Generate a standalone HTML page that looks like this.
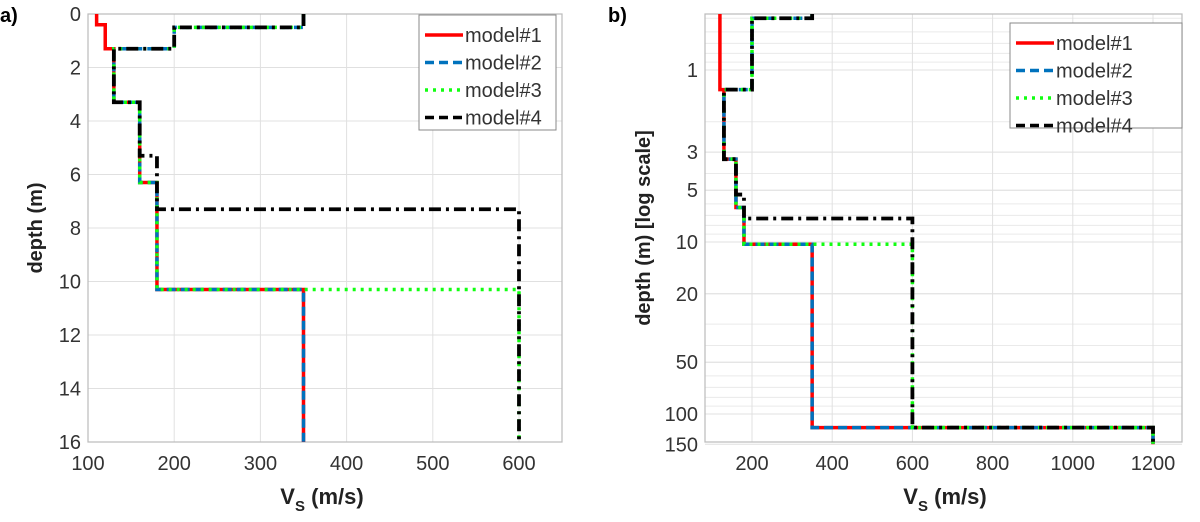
<!DOCTYPE html>
<html><head><meta charset="utf-8">
<style>
body{margin:0;background:#fff;}
svg{display:block;font-family:"Liberation Sans",sans-serif;}
.tick{font-size:20px;fill:#333;}
</style></head>
<body>
<svg id="fig" width="1200" height="522" viewBox="0 0 1200 522" xmlns="http://www.w3.org/2000/svg">
<text x="0" y="22" font-size="20" font-weight="bold">a)</text>
<text x="608" y="22" font-size="20" font-weight="bold">b)</text>
<text transform="translate(42,228) rotate(-90)" text-anchor="middle" font-size="20" font-weight="bold" fill="#222">depth (m)</text>
<text transform="translate(650,228) rotate(-90)" text-anchor="middle" font-size="20" font-weight="bold" fill="#222">depth (m) [log scale]</text>
<text x="322" y="504" text-anchor="middle" font-size="22" font-weight="bold" fill="#222">V<tspan font-size="15" dy="7">S</tspan><tspan dy="-7"> (m/s)</tspan></text>
<text x="945" y="504" text-anchor="middle" font-size="22" font-weight="bold" fill="#222">V<tspan font-size="15" dy="7">S</tspan><tspan dy="-7"> (m/s)</tspan></text>
<g id="gA"></g><g id="gB"></g>
</svg>
<script>
// layer velocities (m/s) and layer bottom depths (m)
const m1Vs = [110, 120, 130, 160, 180, 350, 1200];
const m1Bot = [0.4, 1.3, 3.3, 6.3, 10.3, 120, 150];
const m2Vs = [350, 200, 130, 160, 180, 350, 1200];
const m2Bot = [0.5, 1.3, 3.3, 6.3, 10.3, 120, 150];
const m3Vs = [350, 200, 130, 160, 180, 600, 1200];
const m3Bot = [0.5, 1.3, 3.3, 6.3, 10.3, 120, 150];
const m4Vs = [350, 200, 130, 160, 180, 600, 1200];
const m4Bot = [0.5, 1.3, 3.3, 5.3, 7.3, 120, 150];
const legendLabels = ["model#1", "model#2", "model#3", "model#4"];
const xTicksA = [100, 200, 300, 400, 500, 600];
const yTicksA = [0, 2, 4, 6, 8, 10, 12, 14, 16];
const xTicksB = [200, 400, 600, 800, 1000, 1200];
const yTicksB = [1, 3, 5, 10, 20, 50, 100, 150];

const NS = "http://www.w3.org/2000/svg";
const styles = [
  {c:"#ff0000", d:"", w:3.5},
  {c:"#0072bd", d:"9,5", w:3.5},
  {c:"#11ff11", d:"3,5", w:3.5},
  {c:"#000000", d:"12,5,3,5", w:3.8}
];
const models = [[m1Vs,m1Bot],[m2Vs,m2Bot],[m3Vs,m3Bot],[m4Vs,m4Bot]];
function mk(tag, attrs, parent){const e=document.createElementNS(NS,tag);for(const k in attrs)e.setAttribute(k,attrs[k]);parent.appendChild(e);return e;}

function panel(g, L, T, R, B, xs, ys, xTicks, yTicks, minorY, zmax, legBox, tag){
  for(const v of minorY){ const l=mk('line',{x1:L,x2:R,y1:ys(v),y2:ys(v),stroke:'#eaeaea','stroke-width':1},g);
      }
  for(const v of xTicks){ const l=mk('line',{x1:xs(v),x2:xs(v),y1:T,y2:B,stroke:'#e0e0e0','stroke-width':1},g);
     
    const t=mk('text',{x:xs(v),y:B+28,'text-anchor':'middle',class:'tick'},g); t.textContent=v;
      }
  for(const v of yTicks){ const l=mk('line',{x1:L,x2:R,y1:ys(v),y2:ys(v),stroke:'#e0e0e0','stroke-width':1},g);
     
    const t=mk('text',{x:L-7,y:ys(v)+7,'text-anchor':'end',class:'tick'},g); t.textContent=v;
      }
  const box=mk('rect',{x:L,y:T,width:R-L,height:B-T,fill:'none',stroke:'#bbb','stroke-width':1.2},g);
   
  models.forEach((m,i)=>{
    const vs=m[0], bot=m[1]; let pts=[]; let prevTop=ys.ztop;
    for(let k=0;k<vs.length;k++){
      const b=Math.min(bot[k],zmax); if(prevTop>=zmax) break;
      const d0=Math.max(prevTop,ys.ztop);
      if(b>d0){ pts.push([xs(vs[k]),ys(d0)]); pts.push([xs(vs[k]),ys(b)]); }
      prevTop=bot[k];
    }
    const p=mk('polyline',{points:pts.map(q=>q.join(',')).join(' '),fill:'none',stroke:styles[i].c,'stroke-width':styles[i].w,'stroke-dasharray':styles[i].d},g);
    
    
  });
  const [lx,ly,lw,lh]=legBox;
  const lg=mk('g',{},g);
  
  
  mk('rect',{x:lx,y:ly,width:lw,height:lh,fill:'#fff',stroke:'#888','stroke-width':1},lg);
  legendLabels.forEach((s,i)=>{
    const yy=ly+20+i*27.5;
    const e=mk('g',{},lg);
    
    
    mk('line',{x1:lx+6,x2:lx+44,y1:yy,y2:yy,stroke:styles[i].c,'stroke-width':3.5,'stroke-dasharray':i==3?'9,5':styles[i].d},e);
    const t=mk('text',{x:lx+46,y:yy+7,'font-size':20,fill:'#333'},e); t.textContent=s;
  });
}
(function(){
  const L=88,R=562,T=14,B=442;
  const xs=v=>L+(v-100)*(519-88)/500;
  const ys=z=>T+z*(B-T)/16; ys.ztop=0;
  panel(document.getElementById('gA'),L,T,R,B,xs,ys,xTicksA,yTicksA,[],16,[419,15,137,115],'a');
})();
(function(){
  const L=705,R=1182,T=14,B=442;
  const xs=v=>752+(v-200)*(1153-752)/1000;
  const ys=z=>70+Math.log10(z)*172; ys.ztop=Math.pow(10,(T-70)/172);
  const minor=[];
  for(const dec of [0.1,1,10,100]) for(let k=1;k<10;k++){const v=dec*k; if(v>=ys.ztop&&v<=150) minor.push(v);}
  panel(document.getElementById('gB'),L,T,R,B,xs,ys,xTicksB,yTicksB,minor,150,[1010,23,172,105],'b');
})();
</script>
</body></html>
